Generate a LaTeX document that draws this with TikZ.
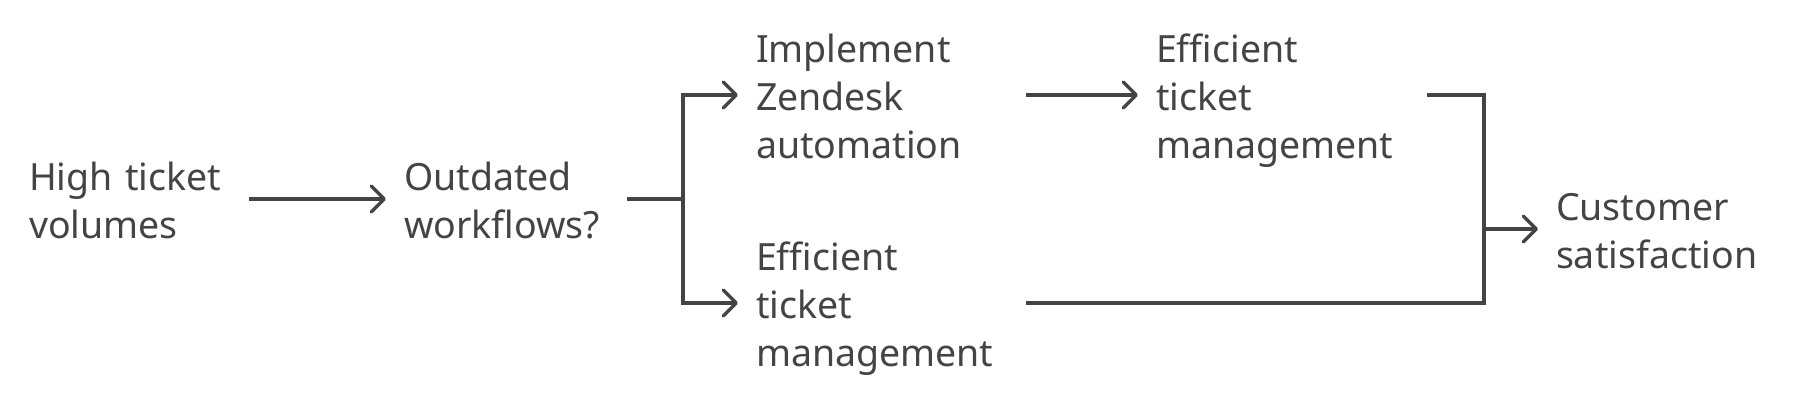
\documentclass[tikz,border=0pt]{standalone}
\usepackage{fontspec}
\setmainfont{Noto Sans}
\usetikzlibrary{arrows.meta}
\definecolor{ink}{HTML}{444444}
\newcommand\topstr{\rule{0pt}{45pt}}
\tikzset{
  lbl/.style={anchor=west, inner sep=0pt, outer sep=0pt, align=left, text=ink,
    font=\fontsize{37.5}{48}\selectfont},
  conn/.style={draw=ink, line width=3.5pt},
  arr/.style={conn, -{Straight Barb[length=13pt,width=26pt,line width=3.5pt,line join=round,line cap=round]}, shorten >=18pt}
}
\begin{document}
\begin{tikzpicture}[x=1pt,y=-1pt]
\useasboundingbox (0,0) rectangle (1816,400);
\node[lbl, text width=220pt] (n1) at (29,199) {\topstr High ticket\\volumes\strut};
\node[lbl, text width=223pt] (n2) at (404,199) {\topstr Outdated\\workflows?\strut};
\node[lbl, text width=270pt] (n3) at (756,95) {\topstr Implement\\Zendesk\\automation\strut};
\node[lbl, text width=270pt] (n4) at (756,303) {\topstr Efficient\\ticket\\management\strut};
\node[lbl, text width=271pt] (n5) at (1156,95) {\topstr Efficient\\ticket\\management\strut};
\node[lbl, text width=240pt] (n6) at (1556,229) {\topstr Customer\\satisfaction\strut};
\coordinate (br) at (683,199);
\coordinate (mg) at (1484,229);
\draw[arr] (n1.east) -- (n2.west);
\draw[conn] (n2.east) -- (br);
\draw[arr] (br) |- (n3.west);
\draw[arr] (br) |- (n4.west);
\draw[arr] (n3.east) -- (n5.west);
\draw[conn] (n5.east) -| (mg);
\draw[conn] (n4.east) -| (mg);
\draw[arr] (mg) -- (n6.west);
\end{tikzpicture}
\end{document}
